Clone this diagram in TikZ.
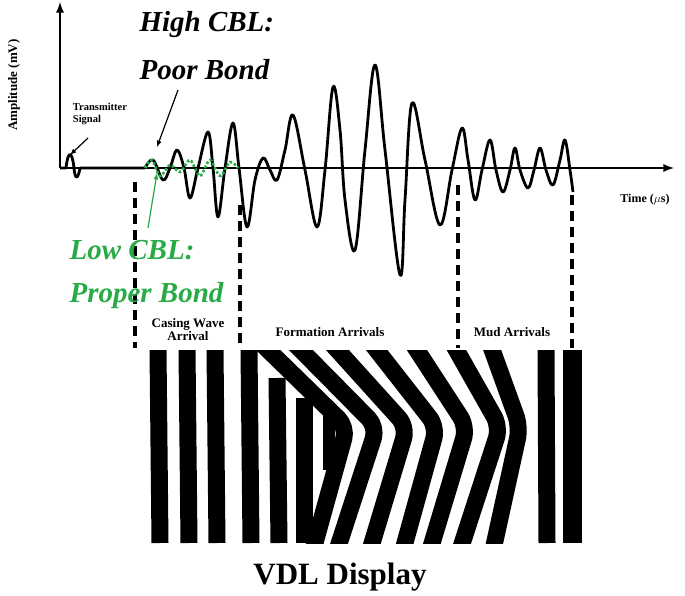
\documentclass[tikz,border=0pt]{standalone}
\usepackage{fontspec}
\setmainfont{Liberation Serif}
\definecolor{grn}{RGB}{40,170,70}
\begin{document}
\begin{tikzpicture}[x=1pt,y=-1pt,
  lbl/.style={font=\bfseries\fontsize{13}{13}\selectfont,align=center},
  big/.style={font=\bfseries\itshape\fontsize{29}{30}\selectfont},
  dsh/.style={line width=3.2pt,dash pattern=on 10pt off 6pt},
  stripe/.style={line width=17pt,line join=round},
  arr/.style={-latex,line width=1.2pt}]
\useasboundingbox (0,0) rectangle (685,596);
% axes
\coordinate (o) at (60,168);
\coordinate (ytop) at (60,2);
\coordinate (xend) at (674,168);
\draw[line width=2.6pt,-latex] (o) -- (ytop);
\draw[line width=2.6pt,-latex] (o) -- (xend);
\node[lbl,rotate=90] (amp) at (14,85) {Amplitude (mV)};
\node[lbl,font=\bfseries\fontsize{12}{12}\selectfont] (time) at (645,200) {Time ($\mu$s)};
% waveform
\draw[line width=2.8pt,line join=round] (60,168) -- (66,168) .. controls (68,150) and (72,150) .. (74,168) .. controls (75,180) and (78,180) .. (80,168) -- (145,168)
 plot[smooth,tension=0.6] coordinates {(145,168)(153,160)(163,180)(170,168)(177,150)(184,168)(190,198)(198,168)(208,132)(213,168)(218,217)(225,168)(233,123)(239,168)(247,227)(255,180)(263,158)(270,170)(277,180)(285,150)(293,115)(305,170)(317,227)(325,170)(333,87)(340,130)(345,200)(355,250)(365,150)(375,65)(385,150)(400,275)(405,200)(412,103)(425,160)(440,225)(452,170)(462,128)(468,160)(475,200)(482,170)(490,140)(496,170)(503,192)(510,170)(515,148)(520,170)(528,188)(534,170)(540,148)(546,170)(553,185)(560,160)(565,140)(570,170)(573,192)};
\draw[grn,line width=2.6pt,dotted] plot[smooth] coordinates {(145,168)(152,160)(160,176)(170,165)(180,172)(190,160)(200,176)(210,160)(220,176)(230,162)(238,168)};
% dashed dividers
\coordinate (d1a) at (135,182); \coordinate (d1b) at (135,348);
\coordinate (d2a) at (240,205); \coordinate (d2b) at (240,348);
\coordinate (d3a) at (458,185); \coordinate (d3b) at (458,348);
\coordinate (d4a) at (572,195); \coordinate (d4b) at (572,348);
\draw[dsh] (d1a)--(d1b); \draw[dsh] (d2a)--(d2b); \draw[dsh] (d3a)--(d3b); \draw[dsh] (d4a)--(d4b);
% labels
\node[big,anchor=west] (hi) at (136,25) {High CBL:};
\node[big,anchor=west] (pb) at (136,70) {Poor Bond};
\coordinate (pbt) at (178,90); \coordinate (pbh) at (157,147);
\draw[arr] (pbt) -- (pbh);
\node[font=\bfseries\fontsize{10.5}{12}\selectfont,align=left] (tx) at (100,114) {Transmitter\\Signal};
\coordinate (txt) at (88,138); \coordinate (txh) at (70,155);
\draw[arr] (txt) -- (txh);
\node[big,grn,anchor=west] (lo) at (66,250) {Low CBL:};
\node[big,grn,anchor=west] (prb) at (66,296) {Proper Bond};
\coordinate (lot) at (148,228); \coordinate (loh) at (157,173);
\draw[arr,grn] (lot) -- (loh);
\node[lbl,inner sep=1pt] (cw) at (188,330) {Casing Wave\\Arrival};
\node[lbl] (fa) at (330,332) {Formation Arrivals};
\node[lbl] (ma) at (512,332) {Mud Arrivals};
\node[font=\bfseries\fontsize{31}{32}\selectfont] (vdl) at (340,577) {VDL Display};
% VDL stripes
\begin{scope}
\clip (145,350) rectangle (582,543);
\foreach \a in {158,187,215,249}{\draw[stripe] (\a,350) -- (\a+2,543);}
\draw[stripe] (277,378) -- (279,543);
\draw[stripe] (304,398) -- (304,543);
\draw[line width=12pt] (329,410) -- (329,470);
\foreach \t/\m/\b in {262/347/313, 295/377/337, 332/407/370, 372/437/403, 413/467/430, 453/500/460, 490/520/493}{
  \draw[stripe,rounded corners=12pt] (\t,344) -- (\m,427) -- (\b,550);}
\draw[stripe] (546,350) -- (547,543);
\fill (563,350) rectangle (582,543);
\end{scope}
\end{tikzpicture}
\end{document}
